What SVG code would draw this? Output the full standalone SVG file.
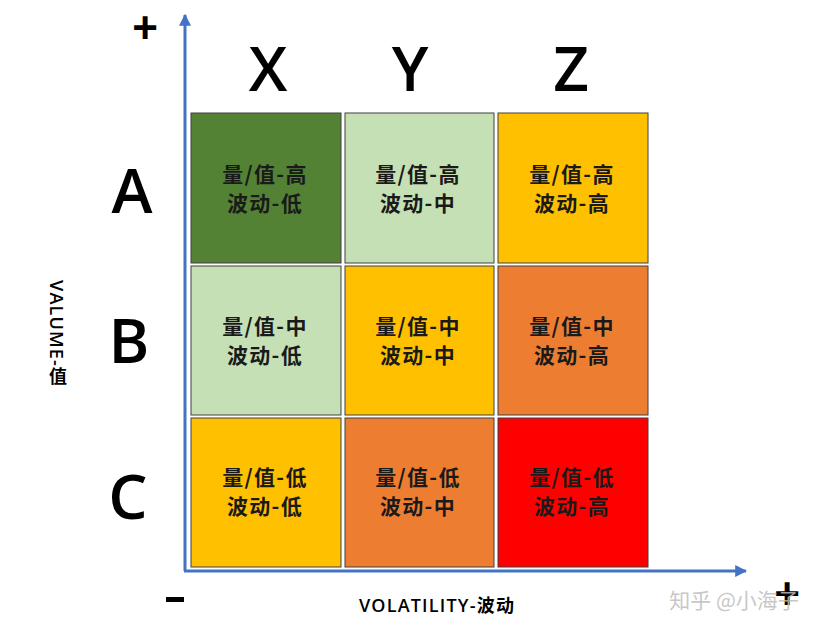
<svg xmlns="http://www.w3.org/2000/svg" width="832" height="636" viewBox="0 0 832 636">
<style>
.cell{stroke:#404040;stroke-width:1}
.ct{font-family:"Noto Sans CJK SC",sans-serif;font-size:21px;font-weight:bold;fill:#1a1a1a;text-anchor:middle;letter-spacing:1.3px}
.big{font-family:"Open Sans","Liberation Sans",sans-serif;font-size:62px;font-weight:600;fill:#000;text-anchor:middle}
.sign{font-family:"Liberation Sans",sans-serif;font-weight:bold;fill:#000;text-anchor:middle}
.ax{font-family:"Open Sans","Noto Sans CJK SC",sans-serif;font-size:18px;font-weight:600;fill:#000;text-anchor:middle;letter-spacing:1.2px}
.axis{stroke:#4472C4;stroke-width:3;fill:none}
</style>
<defs>
<marker id="ah" viewBox="0 0 10 10" refX="9" refY="5" markerWidth="4" markerHeight="4" orient="auto" markerUnits="strokeWidth">
<path d="M0,0 L10,5 L0,10 z" fill="#4472C4"/>
</marker>
</defs>
<rect width="832" height="636" fill="#fff"/>
<g id="cell-AX"><rect class="cell" x="191" y="113" width="150" height="150" fill="#548235"/><text class="ct" x="265" y="182">量/值-高</text><text class="ct" x="265" y="211">波动-低</text></g>
<g id="cell-AY"><rect class="cell" x="345" y="113" width="149" height="150" fill="#C5E0B4"/><text class="ct" x="418" y="182">量/值-高</text><text class="ct" x="418" y="211">波动-中</text></g>
<g id="cell-AZ"><rect class="cell" x="498" y="113" width="150" height="150" fill="#FFC000"/><text class="ct" x="572" y="182">量/值-高</text><text class="ct" x="572" y="211">波动-高</text></g>
<g id="cell-BX"><rect class="cell" x="191" y="266" width="150" height="149" fill="#C5E0B4"/><text class="ct" x="265" y="334">量/值-中</text><text class="ct" x="265" y="363">波动-低</text></g>
<g id="cell-BY"><rect class="cell" x="345" y="266" width="149" height="149" fill="#FFC000"/><text class="ct" x="418" y="334">量/值-中</text><text class="ct" x="418" y="363">波动-中</text></g>
<g id="cell-BZ"><rect class="cell" x="498" y="266" width="150" height="149" fill="#ED7D31"/><text class="ct" x="572" y="334">量/值-中</text><text class="ct" x="572" y="363">波动-高</text></g>
<g id="cell-CX"><rect class="cell" x="191" y="418" width="150" height="149" fill="#FFC000"/><text class="ct" x="265" y="485">量/值-低</text><text class="ct" x="265" y="514">波动-低</text></g>
<g id="cell-CY"><rect class="cell" x="345" y="418" width="149" height="149" fill="#ED7D31"/><text class="ct" x="418" y="485">量/值-低</text><text class="ct" x="418" y="514">波动-中</text></g>
<g id="cell-CZ"><rect class="cell" x="498" y="418" width="150" height="149" fill="#FF0000"/><text class="ct" x="572" y="485">量/值-低</text><text class="ct" x="572" y="514">波动-高</text></g>
<g id="connectors">
<line class="axis" x1="185" y1="571" x2="185" y2="15" marker-end="url(#ah)"/>
<line class="axis" x1="184" y1="571" x2="746" y2="571" marker-end="url(#ah)"/>
</g>
<g id="labels">
<text class="big" x="268" y="91">X</text>
<text class="big" x="410" y="91">Y</text>
<text class="big" x="571" y="91">Z</text>
<text class="big" x="132" y="213">A</text>
<text class="big" x="129" y="363">B</text>
<text class="big" x="128" y="519">C</text>
<text class="sign" x="145" y="43" font-size="44">+</text>
<text class="sign" x="787" y="609" font-size="44">+</text>
<rect x="166" y="597" width="18" height="5" fill="#000"/>
<text class="ax" x="437" y="612">VOLATILITY-波动</text>
<text class="ax" writing-mode="vertical-rl" style="text-anchor:start" x="57" y="280">VALUME-值</text>
<text x="734" y="608" font-family="'Noto Sans CJK SC',sans-serif" font-size="21" fill="#bdbdbd" fill-opacity="0.85" text-anchor="middle">知乎 @小海子</text>
</g>
</svg>
